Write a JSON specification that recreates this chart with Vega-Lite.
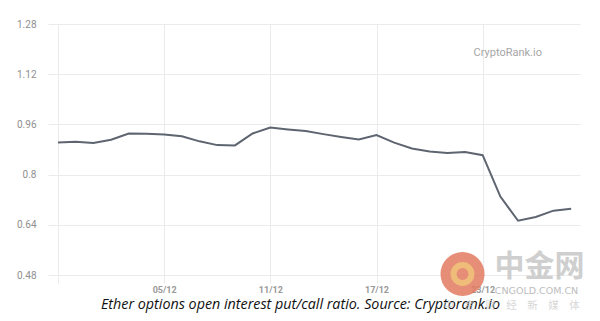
{
  "$schema": "https://vega.github.io/schema/vega-lite/v6.json",
  "autosize": {"type": "none"},
  "width": 532,
  "height": 251,
  "padding": {"left": 48, "top": 24, "right": 20, "bottom": 46},
  "background": "white",
  "config": {"view": {"stroke": null}},
  "data": {
    "values": [
      {"date": "2020-11-29", "ratio": 0.902},
      {"date": "2020-11-30", "ratio": 0.905},
      {"date": "2020-12-01", "ratio": 0.901},
      {"date": "2020-12-02", "ratio": 0.911},
      {"date": "2020-12-03", "ratio": 0.931},
      {"date": "2020-12-04", "ratio": 0.930},
      {"date": "2020-12-05", "ratio": 0.928},
      {"date": "2020-12-06", "ratio": 0.922},
      {"date": "2020-12-07", "ratio": 0.906},
      {"date": "2020-12-08", "ratio": 0.894},
      {"date": "2020-12-09", "ratio": 0.893},
      {"date": "2020-12-10", "ratio": 0.931},
      {"date": "2020-12-11", "ratio": 0.950},
      {"date": "2020-12-12", "ratio": 0.944},
      {"date": "2020-12-13", "ratio": 0.939},
      {"date": "2020-12-14", "ratio": 0.929},
      {"date": "2020-12-15", "ratio": 0.920},
      {"date": "2020-12-16", "ratio": 0.912},
      {"date": "2020-12-17", "ratio": 0.926},
      {"date": "2020-12-18", "ratio": 0.902},
      {"date": "2020-12-19", "ratio": 0.883},
      {"date": "2020-12-20", "ratio": 0.874},
      {"date": "2020-12-21", "ratio": 0.869},
      {"date": "2020-12-22", "ratio": 0.872},
      {"date": "2020-12-23", "ratio": 0.862},
      {"date": "2020-12-24", "ratio": 0.730},
      {"date": "2020-12-25", "ratio": 0.653},
      {"date": "2020-12-26", "ratio": 0.665},
      {"date": "2020-12-27", "ratio": 0.685},
      {"date": "2020-12-28", "ratio": 0.691}
    ]
  },
  "layer": [
    {
      "data": {"values": [{}]},
      "mark": {"type": "point", "shape": "circle", "filled": true, "size": 1940, "color": "#e27a60", "opacity": 0.85},
      "encoding": {
        "x": {"datum": {"year": 2020, "month": 12, "date": 21, "hours": 20, "minutes": 40}, "type": "temporal"},
        "y": {"datum": 0.4832, "type": "quantitative"}
      }
    },
    {
      "data": {"values": [{}]},
      "mark": {"type": "point", "shape": "circle", "filled": false, "size": 320, "color": "#f0c27a", "strokeWidth": 6, "opacity": 0.9},
      "encoding": {
        "x": {"datum": {"year": 2020, "month": 12, "date": 21, "hours": 20, "minutes": 40}, "type": "temporal"},
        "y": {"datum": 0.4832, "type": "quantitative"}
      }
    },
    {
      "data": {"values": [{}]},
      "mark": {"type": "text", "font": "Noto Sans CJK SC", "fontSize": 30, "fontWeight": "bold", "color": "#c4c4c4", "opacity": 0.8, "align": "center", "baseline": "middle"},
      "encoding": {
        "x": {"datum": {"year": 2020, "month": 12, "date": 26, "hours": 5}, "type": "temporal"},
        "y": {"datum": 0.5056, "type": "quantitative"},
        "text": {"value": "中金网"}
      }
    },
    {
      "data": {"values": [{}]},
      "mark": {"type": "text", "font": "DejaVu Sans", "fontSize": 9.5, "color": "#bdbdbd", "align": "center", "baseline": "middle"},
      "encoding": {
        "x": {"datum": {"year": 2020, "month": 12, "date": 26, "hours": 1}, "type": "temporal"},
        "y": {"datum": 0.428, "type": "quantitative"},
        "text": {"value": "CNGOLD.COM.CN"}
      }
    },
    {
      "data": {"values": [{}]},
      "mark": {"type": "text", "font": "Noto Sans CJK SC", "fontSize": 10.5, "color": "#c8c8c8", "opacity": 0.7, "align": "center", "baseline": "middle"},
      "encoding": {
        "x": {"datum": {"year": 2020, "month": 12, "date": 24, "hours": 15}, "type": "temporal"},
        "y": {"datum": 0.382, "type": "quantitative"},
        "text": {"value": "中　金　财　经　新　媒　体"}
      }
    },
    {
      "mark": {"type": "line", "color": "#5e6570", "strokeWidth": 2, "interpolate": "linear"},
      "encoding": {
        "x": {
          "field": "date",
          "type": "temporal",
          "scale": {
            "domain": [
              {"year": 2020, "month": 11, "date": 28, "hours": 10, "minutes": 27},
              {"year": 2020, "month": 12, "date": 28, "hours": 12, "minutes": 0}
            ]
          },
          "axis": {
            "title": "Ether options open interest put/call ratio. Source: Cryptorank.io",
            "titleFont": "Open Sans",
            "titleFontStyle": "italic",
            "titleFontWeight": "normal",
            "titleFontSize": 14.3,
            "titleColor": "#111111",
            "titleAnchor": "middle",
            "titleX": 252,
            "titlePadding": 3,
            "values": [
              {"year": 2020, "month": 11, "date": 29},
              {"year": 2020, "month": 12, "date": 5},
              {"year": 2020, "month": 12, "date": 11},
              {"year": 2020, "month": 12, "date": 17},
              {"year": 2020, "month": 12, "date": 23}
            ],
            "labelExpr": "month(datum.value) == 10 ? '' : timeFormat(datum.value, '%d/%m')",
            "grid": true,
            "gridColor": "#ebebeb",
            "gridWidth": 1,
            "domain": false,
            "ticks": true,
            "tickColor": "#ebebeb",
            "tickSize": 8,
            "labelPadding": 2,
            "labelFont": "Roboto",
            "labelFontSize": 9,
            "labelColor": "#999999",
            "labelFontWeight": "bold"
          }
        },
        "y": {
          "field": "ratio",
          "type": "quantitative",
          "scale": {"domain": [0.48, 1.28], "zero": false, "nice": false},
          "axis": {
            "title": null,
            "values": [0.48, 0.64, 0.8, 0.96, 1.12, 1.28],
            "labelExpr": "format(datum.value, '.2~f')",
            "grid": true,
            "gridColor": "#ebebeb",
            "gridWidth": 1,
            "domain": false,
            "ticks": false,
            "labelPadding": 12,
            "labelFont": "Roboto",
            "labelFontSize": 10,
            "labelColor": "#8f8f8f"
          }
        }
      }
    },
    {
      "data": {"values": [{}]},
      "mark": {"type": "text", "font": "Roboto", "fontSize": 11, "color": "#a6a6a6", "align": "center", "baseline": "middle"},
      "encoding": {
        "x": {"datum": {"year": 2020, "month": 12, "date": 24, "hours": 10}, "type": "temporal"},
        "y": {"datum": 1.187, "type": "quantitative"},
        "text": {"value": "CryptoRank.io"}
      }
    }
  ]
}
